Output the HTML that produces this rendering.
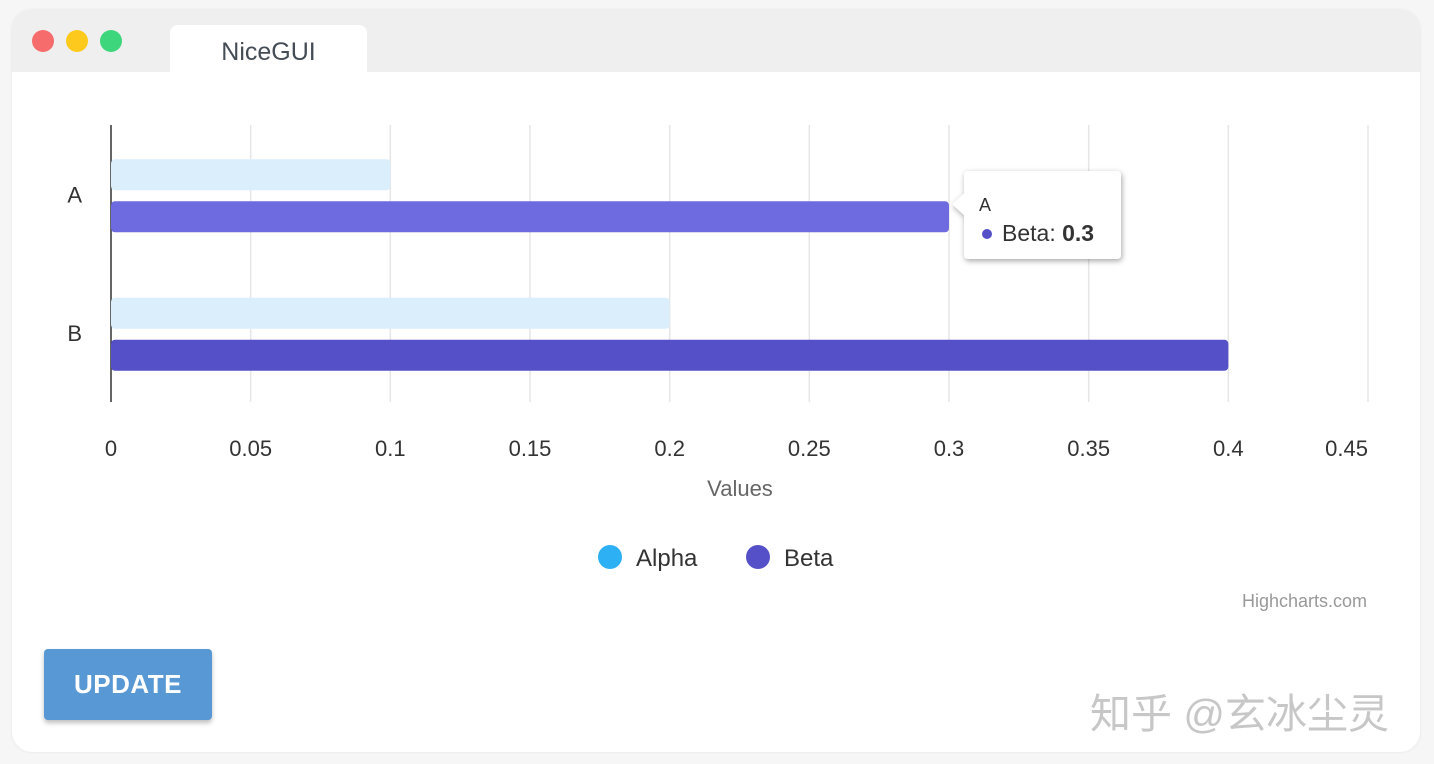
<!DOCTYPE html>
<html><head><meta charset="utf-8"><style>
body{margin:0;width:1434px;height:764px;background:#f6f6f6;font-family:"Liberation Sans",sans-serif;overflow:hidden;position:relative}
#win{position:absolute;left:12px;top:10px;width:1408px;height:742px;background:#fff;border-radius:20px;overflow:hidden;box-shadow:0 0 3px rgba(0,0,0,.08)}
#bar{position:absolute;left:0;top:0;width:1408px;height:62px;background:#efefef}
.dot{position:absolute;top:20px;width:22px;height:22px;border-radius:50%}
#tab{position:absolute;left:158px;top:15px;width:197px;height:47px;background:#fff;border-radius:8px 8px 0 0;text-align:center;line-height:54px;font-size:25px;color:#444c55}
#upd{position:absolute;left:44px;top:649px;width:168px;height:71px;background:#5898d4;border-radius:4px;color:#fff;font-size:26px;font-weight:bold;text-align:center;line-height:71px;box-shadow:0 3px 5px rgba(0,0,0,.25);letter-spacing:.5px}
#wm{position:absolute;left:1090px;top:680px;font-size:41px;color:rgba(180,180,180,.75);font-family:"Liberation Sans","Noto Sans CJK SC",sans-serif}
svg{position:absolute;left:0;top:0}
</style></head><body>
<div id="win">
<div id="bar"></div>
<div class="dot" style="left:20px;background:#f66b6b"></div>
<div class="dot" style="left:54px;background:#fdc91c"></div>
<div class="dot" style="left:88px;background:#3ed67c"></div>
<div id="tab">NiceGUI</div>
</div>
<svg id="chart" width="1434" height="764"></svg>
<div id="upd">UPDATE</div>
<div id="wm">知乎 @玄冰尘灵</div>
<script>
const categories=["A","B"];
const alpha=[0.1,0.2];
const beta=[0.3,0.4];
const ticks=[0,0.05,0.1,0.15,0.2,0.25,0.3,0.35,0.4,0.45];
const tickLabels=["0","0.05","0.1","0.15","0.2","0.25","0.3","0.35","0.4","0.45"];
const svg=document.getElementById('chart');
const NS='http://www.w3.org/2000/svg';
const X0=111,SC=(1368-111)/0.45,TOP=125,BOT=402;
const xs=v=>X0+v*SC;
const catH=(BOT-TOP)/categories.length;
const yc=i=>TOP+catH*(i+0.5);
function mk(t,a,txt){const e=document.createElementNS(NS,t);for(const k in a)e.setAttribute(k,a[k]);if(txt!=null)e.textContent=txt;svg.appendChild(e);return e;}
ticks.forEach((t,i)=>{
 if(i>0){const g=mk('line',{x1:xs(t),x2:xs(t),y1:TOP,y2:BOT,stroke:'#e6e6e6','stroke-width':1.5});
 
 }
 const last=i==ticks.length-1;
 const l=mk('text',{x:last?xs(t):xs(t),y:456,'text-anchor':last?'end':'middle','font-size':22,fill:'#333'},tickLabels[i]);
 
 
});
const ax=mk('line',{x1:X0,x2:X0,y1:TOP,y2:BOT,stroke:'#333','stroke-width':1.5});


categories.forEach((c,i)=>{
 const t=mk('text',{x:82,y:yc(i)+8,'text-anchor':'end','font-size':22,fill:'#333'},c);
 
 
 const a=mk('rect',{x:X0,y:yc(i)-35,width:xs(alpha[i])-X0,height:31,rx:4,fill:'#daeefc'});
 
 
 const b=mk('rect',{x:X0,y:yc(i)+7,width:xs(beta[i])-X0,height:31,rx:4,fill:i==0?'#6e6ae0':'#5550c8'});
 
 
});
const xt=mk('text',{x:740,y:496,'text-anchor':'middle','font-size':22,fill:'#666'},'Values');


[[610,'#2eb0f5','Alpha'],[758,'#5550c8','Beta']].forEach(([x,c,n])=>{
 const d=mk('circle',{cx:x,cy:557,r:12,fill:c});
 
 
 const t=mk('text',{x:x+26,y:566,'font-size':24,fill:'#333'},n);
 
 
});
const cr=mk('text',{x:1367,y:607,'text-anchor':'end','font-size':18,fill:'#999'},'Highcharts.com');


const tx=xs(beta[0]);
const tp=mk('path',{d:`M${tx+15} ${yc(0)+21} L${tx+3} ${yc(0)+10} L${tx+15} ${yc(0)-1} L${tx+15} 175 Q${tx+15} 171 ${tx+19} 171 L${tx+168} 171 Q${tx+172} 171 ${tx+172} 175 L${tx+172} 255 Q${tx+172} 259 ${tx+168} 259 L${tx+19} 259 Q${tx+15} 259 ${tx+15} 255 Z`,fill:'#fff',style:'filter:drop-shadow(1px 2px 3px rgba(0,0,0,.35))'});


const t1=mk('text',{x:tx+30,y:211,'font-size':18,fill:'#333'},categories[0]);


const td=mk('circle',{cx:tx+38,cy:234,r:5,fill:'#5550c8'});


const t2=mk('text',{x:tx+53,y:241,'font-size':23,fill:'#333'});
t2.innerHTML='Beta: <tspan font-weight="bold">'+beta[0]+'</tspan>';


</script>
</body></html>
